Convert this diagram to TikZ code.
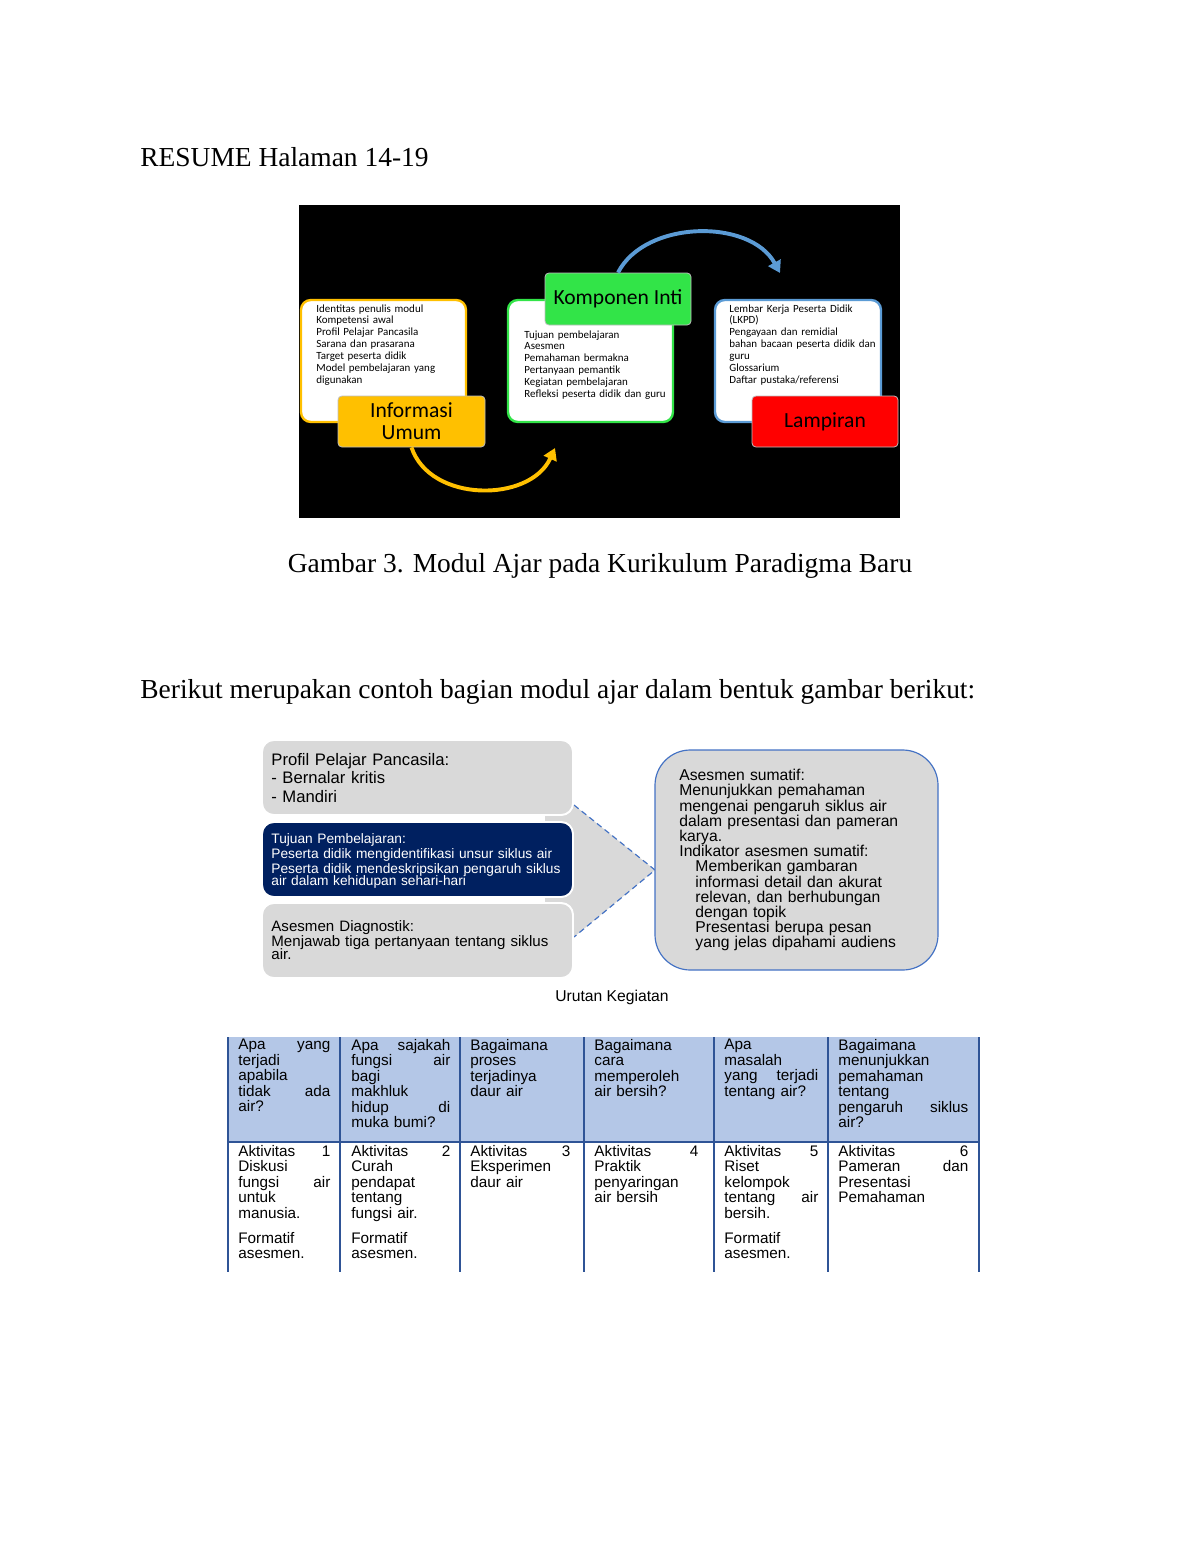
\documentclass[tikz,border=0pt]{standalone}
\usepackage{fontspec}
\setmainfont{Liberation Serif}
\setsansfont{Liberation Sans}
\newfontfamily\slidefont{Carlito}
\usetikzlibrary{arrows.meta,positioning}
\definecolor{SlideGold}{RGB}{255,192,0}
\definecolor{SlideGreen}{RGB}{50,228,72}
\definecolor{SlideRed}{RGB}{255,0,0}
\definecolor{SlideBlue}{RGB}{91,155,213}
\definecolor{BoxGray}{RGB}{217,217,217}
\definecolor{DeepNavy}{RGB}{0,32,96}
\definecolor{EdgeBlue}{RGB}{68,114,196}
\definecolor{HeadBlue}{RGB}{180,199,231}
\definecolor{RuleBlue}{RGB}{47,84,150}
\newcommand{\upx}{0.51pt}
\tikzset{
  pagetext/.style={inner sep=0pt,font=\fontsize{14}{16}\selectfont},
  listbox/.style={fill=white,rounded corners=5pt,line width=1.2pt},
  titlebox/.style={rounded corners=2pt,draw=white!75!black,line width=0.4pt,
    align=center,font=\slidefont\fontsize{11}{11.2}\selectfont},
  slidetext/.style={anchor=north west,inner sep=0pt,text width=155*\upx,
    align=left,font=\slidefont\fontsize{5.6}{6.1}\selectfont},
  arc/.style={line width=2pt,-{Triangle[length=6pt,width=7pt]}},
  graybox/.style={fill=BoxGray,draw=white,line width=1pt,rounded corners=6pt,
    minimum width=311*\upx,minimum height=75*\upx},
  navybox/.style={fill=DeepNavy,draw=white,line width=1pt,rounded corners=6pt,
    minimum width=311*\upx,minimum height=75*\upx},
  sumbox/.style={fill=BoxGray,draw=EdgeBlue,line width=0.6pt,rounded corners=18pt},
  boxtext/.style={anchor=north west,inner sep=0pt,text width=295*\upx,align=left},
  headcell/.style={anchor=north west,inner sep=0pt,align=left,
    font=\sffamily\fontsize{7.8}{7.85}\selectfont},
  gridline/.style={RuleBlue,line width=1.1pt}
}

\begin{document}
\begin{tikzpicture}[x=\upx,y=-\upx]
\useasboundingbox (0,0) rectangle (1200,1553);

\node[pagetext,anchor=base west] (resume) at (140,167) {RESUME Halaman 14-19};

% Gambar 3: slide hitam
\fill[black] (299,205) rectangle (900,518);

\node[listbox,draw=SlideGold,minimum width=165*\upx,minimum height=122*\upx] (infoBox) at (383.5,361) {};
\node[slidetext] (infoList) at (316,304) {Identitas penulis modul\\Kompetensi awal\\Profil Pelajar Pancasila\\Sarana dan prasarana\\Target peserta didik\\Model pembelajaran yang\\digunakan};
\node[titlebox,fill=SlideGold,minimum width=147*\upx,minimum height=51*\upx] (infoTitle) at (411.5,421.5) {Informasi\\Umum};

\node[listbox,draw=SlideGreen,minimum width=165*\upx,minimum height=122*\upx] (kompBox) at (590.5,361) {};
\node[slidetext] (kompList) at (524,330) {Tujuan pembelajaran\\Asesmen\\Pemahaman bermakna\\Pertanyaan pemantik\\Kegiatan pembelajaran\\Refleksi peserta didik dan guru};
\node[titlebox,fill=SlideGreen,minimum width=146*\upx,minimum height=52*\upx] (kompTitle) at (618,299) {Komponen Inti};

\node[listbox,draw=SlideBlue,minimum width=166*\upx,minimum height=122*\upx] (lampBox) at (798,361) {};
\node[slidetext] (lampList) at (729,304) {Lembar Kerja Peserta Didik\\(LKPD)\\Pengayaan dan remidial\\bahan bacaan peserta didik dan\\guru\\Glossarium\\Daftar pustaka/referensi};
\node[titlebox,fill=SlideRed,minimum width=146*\upx,minimum height=51*\upx] (lampTitle) at (825,421.5) {Lampiran};

\coordinate (lampTip) at (780,273);
\coordinate (kompTip) at (555,448);
\draw[arc,SlideBlue] (kompTitle.north) .. controls (645,220) and (750,218) .. (lampTip);
\draw[arc,SlideGold] (infoTitle.south) .. controls (430,503) and (530,503) .. (kompTip);

\node[pagetext,anchor=base] (caption) at (600,572) {Gambar 3. Modul Ajar pada Kurikulum Paradigma Baru};
\node[pagetext,anchor=base west] (intro) at (140,698) {Berikut merupakan contoh bagian modul ajar dalam bentuk gambar berikut:};

% bagian modul ajar
\coordinate (chevTop) at (574,805);
\coordinate (chevTip) at (655,870);
\coordinate (chevBot) at (574,937);
\fill[BoxGray] (545,805) -- (chevTop) -- (chevTip) -- (chevBot) -- (545,937) -- cycle;
\draw[EdgeBlue,densely dashed,line width=0.6pt] (chevTop) -- (chevTip) -- (chevBot);

\node[graybox] (profilBox) at (417.5,777.5) {};
\node[boxtext,font=\sffamily\fontsize{8.5}{9.4}\selectfont] (profilText) at (271,753) {Profil Pelajar Pancasila:\\- Bernalar kritis\\- Mandiri};
\node[navybox] (tujuanBox) at (417.5,859.5) {};
\node[boxtext,text=white,font=\sffamily\fontsize{7}{7.65}\selectfont] (tujuanText) at (271,833) {Tujuan Pembelajaran:\\Peserta didik mengidentifikasi unsur siklus air\\Peserta didik mendeskripsikan pengaruh siklus\\[-1.5pt]air dalam kehidupan sehari-hari};
\node[graybox] (diagBox) at (417.5,940.5) {};
\node[boxtext,font=\sffamily\fontsize{7.7}{7.65}\selectfont] (diagText) at (271,920) {Asesmen Diagnostik:\\Menjawab tiga pertanyaan tentang siklus\\[-1pt]air.};

\node[sumbox,minimum width=283*\upx,minimum height=220*\upx] (sumatifBox) at (796.5,860) {};
\node[boxtext,text width=250*\upx,font=\sffamily\fontsize{8}{7.75}\selectfont] (sumatifText) at (679,769) {Asesmen sumatif:\\Menunjukkan pemahaman\\mengenai pengaruh siklus air\\dalam presentasi dan pameran\\karya.\\Indikator asesmen sumatif:\\\hspace*{8.2pt}Memberikan gambaran\\\hspace*{8.2pt}informasi detail dan akurat\\\hspace*{8.2pt}relevan, dan berhubungan\\\hspace*{8.2pt}dengan topik\\\hspace*{8.2pt}Presentasi berupa pesan\\\hspace*{8.2pt}yang jelas dipahami audiens};

\node[font=\sffamily\fontsize{8}{9}\selectfont,inner sep=0pt] (urutan) at (612,997) {Urutan Kegiatan};

% tabel urutan kegiatan
\fill[HeadBlue] (228,1037) rectangle (979,1142);
\foreach \x in {228,340,460,584,714,828,979}
  \draw[gridline] (\x,1037) -- (\x,1272);
\draw[gridline] (228,1142) -- (979,1142);

\node[headcell,text width=92*\upx] (ask1) at (238,1039) {Apa \hfill yang\\terjadi\\apabila\\tidak \hfill ada\\air?};
\node[headcell,text width=99*\upx] (ask2) at (351,1039) {Apa \hfill sajakah\\fungsi \hfill air\\bagi\\makhluk\\hidup \hfill di\\muka bumi?};
\node[headcell,text width=100*\upx] (ask3) at (470,1039) {Bagaimana\\proses\\terjadinya\\daur air};
\node[headcell,text width=104*\upx] (ask4) at (594,1039) {Bagaimana\\cara\\memperoleh\\air bersih?};
\node[headcell,text width=94*\upx] (ask5) at (724,1039) {Apa\\masalah\\yang \hfill terjadi\\tentang air?};
\node[headcell,text width=130*\upx] (ask6) at (838,1039) {Bagaimana\\menunjukkan\\pemahaman\\tentang\\pengaruh \hfill siklus\\air?};

\node[headcell,text width=92*\upx] (act1) at (238,1145) {Aktivitas \hfill 1\\Diskusi\\fungsi \hfill air\\untuk\\manusia.\\[4.9pt]Formatif\\asesmen.};
\node[headcell,text width=99*\upx] (act2) at (351,1145) {Aktivitas \hfill 2\\Curah\\pendapat\\tentang\\fungsi air.\\[4.9pt]Formatif\\asesmen.};
\node[headcell,text width=100*\upx] (act3) at (470,1145) {Aktivitas \hfill 3\\Eksperimen\\daur air};
\node[headcell,text width=104*\upx] (act4) at (594,1145) {Aktivitas \hfill 4\\Praktik\\penyaringan\\air bersih};
\node[headcell,text width=94*\upx] (act5) at (724,1145) {Aktivitas \hfill 5\\Riset\\kelompok\\tentang \hfill air\\bersih.\\[4.9pt]Formatif\\asesmen.};
\node[headcell,text width=130*\upx] (act6) at (838,1145) {Aktivitas \hfill 6\\Pameran \hfill dan\\Presentasi\\Pemahaman};
\end{tikzpicture}
\end{document}
